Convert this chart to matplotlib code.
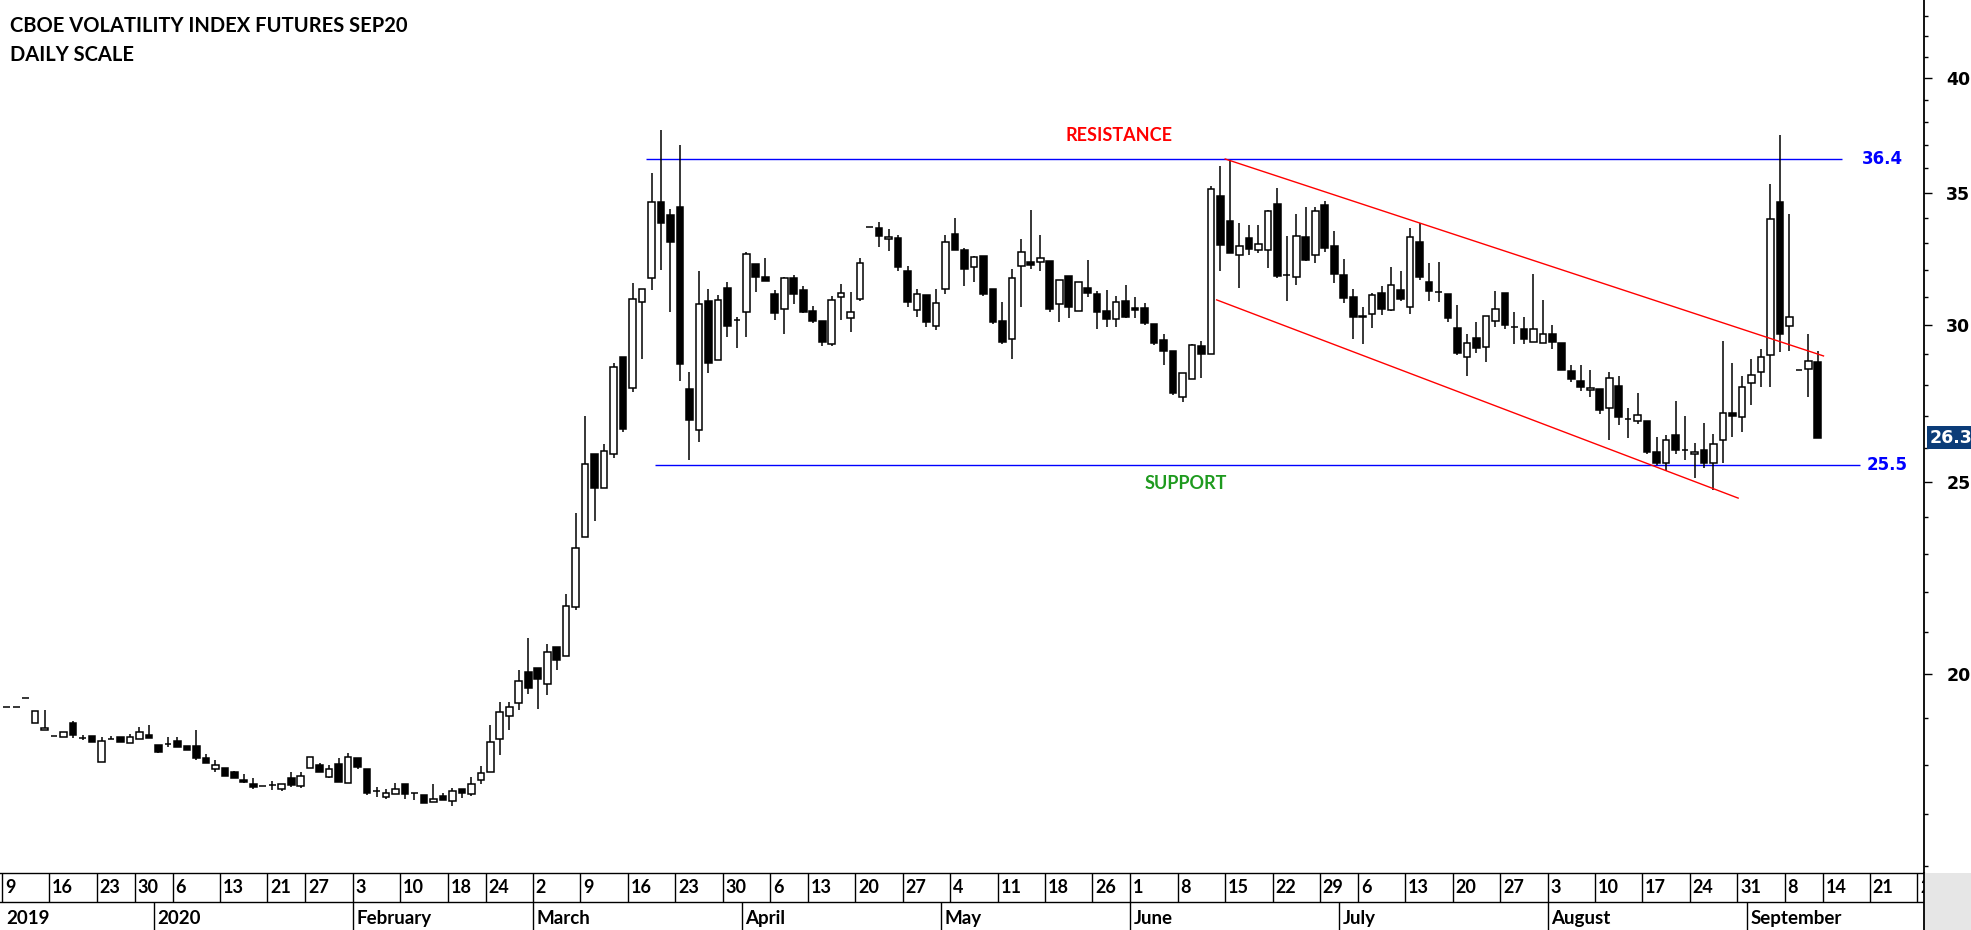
import numpy as np
import pandas as pd
import matplotlib
matplotlib.use("Agg")
import matplotlib.pyplot as plt
from matplotlib.patches import Rectangle
from matplotlib.ticker import FixedLocator, FixedFormatter, NullFormatter
from matplotlib.transforms import blended_transform_factory

W, H = 1971, 930

# daily OHLC, 9 Dec 2019 .. 11 Sep 2020 (trading days)
opens = [
    19.25, 19.25, 19.44, 18.89, 18.74, 18.62, 18.58, 18.89, 18.56, 18.60,
    18.05, 18.54, 18.59, 18.45, 18.55, 18.64, 18.41, 18.44, 18.51, 18.40,
    18.39, 18.13, 17.92, 17.93, 17.84, 17.69, 17.59, 17.56, 17.58, 17.49,
    17.73, 17.56, 17.93, 17.99, 17.75, 18.01, 17.62, 18.13, 17.90, 17.46,
    17.34, 17.39, 17.59, 17.42, 17.37, 17.24, 17.35, 17.25, 17.49, 17.39,
    17.69, 17.84, 18.55, 19.05, 19.33, 20.04, 20.13, 19.78, 20.65, 20.43,
    21.62, 23.45, 25.84, 24.82, 25.82, 28.91, 27.88, 30.83, 31.69, 34.64,
    34.10, 34.43, 27.85, 26.56, 30.86, 28.81, 31.32, 30.19, 30.45, 32.20,
    31.75, 31.12, 30.56, 31.70, 31.25, 30.49, 30.16, 29.37, 31.02, 30.25,
    30.92, 33.65, 33.60, 33.16, 33.20, 31.94, 30.55, 31.08, 29.96, 31.28,
    33.36, 32.74, 32.12, 32.51, 31.28, 30.14, 29.51, 32.13, 32.28, 32.28,
    32.32, 30.74, 31.76, 30.49, 31.32, 31.10, 30.49, 30.21, 30.85, 30.61,
    30.60, 30.05, 29.48, 29.11, 27.59, 28.20, 29.28, 29.03, 34.85, 33.86,
    32.57, 33.20, 32.74, 32.74, 34.55, 31.79, 31.73, 33.23, 32.54, 34.49,
    32.89, 31.79, 30.99, 30.32, 30.38, 31.14, 30.53, 31.26, 30.63, 33.04,
    31.54, 31.19, 31.10, 29.89, 28.93, 29.55, 29.24, 30.14, 31.14, 29.95,
    29.86, 29.43, 29.40, 29.69, 29.38, 28.44, 28.11, 27.82, 27.86, 27.24,
    27.96, 26.91, 26.84, 26.85, 25.88, 25.57, 26.41, 25.96, 25.82, 25.94,
    25.55, 26.25, 27.08, 26.96, 28.04, 28.43, 28.97, 34.62, 29.98, 28.47,
    28.52, 28.76,
]
highs = [
    19.25, 19.25, 19.44, 19.16, 19.18, 18.62, 18.69, 18.94, 18.63, 18.60,
    18.59, 18.61, 18.59, 18.65, 18.80, 18.84, 18.41, 18.59, 18.59, 18.40,
    18.74, 18.22, 18.10, 17.93, 17.87, 17.81, 17.73, 17.56, 17.66, 17.60,
    17.84, 17.84, 18.17, 18.03, 17.99, 18.13, 18.24, 18.13, 17.90, 17.54,
    17.50, 17.62, 17.59, 17.42, 17.37, 17.59, 17.42, 17.51, 17.49, 17.75,
    17.98, 18.84, 19.36, 19.36, 20.09, 20.85, 20.13, 20.70, 20.65, 21.94,
    24.11, 26.99, 25.84, 26.14, 28.70, 28.91, 31.52, 31.28, 35.80, 37.63,
    34.34, 36.98, 28.40, 31.94, 31.28, 31.09, 31.55, 30.28, 32.68, 32.20,
    32.43, 31.25, 31.74, 31.80, 31.42, 30.67, 30.16, 31.04, 31.46, 31.17,
    32.43, 33.65, 33.82, 33.54, 33.32, 32.13, 31.28, 31.08, 31.28, 33.32,
    33.99, 32.81, 32.51, 32.51, 31.28, 30.81, 32.02, 33.15, 34.30, 33.32,
    32.32, 31.61, 31.76, 31.54, 32.37, 31.22, 31.26, 31.04, 31.44, 31.00,
    30.78, 30.05, 29.71, 29.11, 28.37, 29.36, 29.46, 35.28, 36.09, 36.35,
    33.78, 33.70, 33.70, 34.30, 35.20, 33.28, 34.15, 34.43, 34.43, 34.66,
    33.48, 32.42, 31.29, 30.65, 31.15, 31.41, 32.10, 31.97, 33.58, 33.79,
    32.24, 32.28, 31.10, 30.73, 29.70, 30.11, 30.31, 31.22, 31.14, 30.45,
    30.28, 31.85, 30.90, 30.02, 29.38, 28.64, 28.64, 28.47, 27.86, 28.40,
    28.29, 27.24, 27.74, 26.85, 26.34, 26.41, 27.47, 26.99, 26.16, 26.77,
    26.43, 29.46, 28.70, 28.27, 28.86, 29.19, 35.34, 37.45, 34.15, 28.47,
    29.71, 29.13,
]
lows = [
    19.25, 19.25, 19.44, 18.89, 18.74, 18.62, 18.58, 18.56, 18.52, 18.49,
    18.05, 18.54, 18.48, 18.45, 18.55, 18.56, 18.24, 18.37, 18.37, 18.32,
    18.10, 18.04, 17.84, 17.76, 17.73, 17.62, 17.50, 17.56, 17.48, 17.45,
    17.53, 17.51, 17.93, 17.85, 17.72, 17.64, 17.62, 17.90, 17.37, 17.34,
    17.29, 17.39, 17.29, 17.28, 17.21, 17.24, 17.28, 17.16, 17.31, 17.36,
    17.60, 17.84, 18.20, 18.74, 19.19, 19.54, 19.21, 19.53, 20.10, 20.43,
    21.54, 23.45, 23.90, 24.82, 25.70, 26.49, 27.76, 28.85, 31.25, 32.01,
    30.47, 28.13, 25.66, 26.18, 28.39, 28.81, 29.58, 29.23, 29.61, 31.20,
    31.57, 30.18, 29.71, 30.76, 30.42, 30.08, 29.27, 29.27, 30.18, 29.77,
    30.87, 33.65, 32.85, 32.71, 31.96, 30.64, 30.29, 29.95, 29.84, 31.12,
    32.74, 31.42, 31.55, 31.03, 30.06, 29.34, 28.86, 30.66, 32.02, 31.97,
    30.45, 30.13, 30.27, 30.49, 31.01, 29.88, 29.95, 29.95, 30.27, 30.27,
    30.02, 29.33, 28.66, 27.68, 27.43, 28.20, 28.23, 29.03, 31.97, 32.64,
    31.34, 32.55, 32.64, 32.07, 31.71, 30.87, 31.44, 32.33, 32.26, 32.68,
    31.53, 30.80, 29.54, 29.37, 29.90, 30.37, 30.51, 30.86, 30.41, 31.64,
    30.86, 30.82, 30.10, 28.99, 28.29, 29.04, 28.76, 29.95, 29.88, 29.37,
    29.37, 29.43, 29.40, 29.17, 28.47, 28.07, 27.79, 27.61, 27.07, 26.27,
    26.73, 26.33, 26.74, 25.82, 25.50, 25.33, 25.82, 25.64, 25.13, 25.42,
    24.77, 25.57, 26.34, 26.49, 27.33, 27.91, 27.91, 29.10, 29.13, 28.47,
    27.61, 26.33,
]
closes = [
    19.25, 19.25, 19.44, 19.16, 18.79, 18.62, 18.69, 18.64, 18.56, 18.49,
    18.50, 18.54, 18.48, 18.59, 18.69, 18.56, 18.27, 18.44, 18.37, 18.32,
    18.15, 18.04, 17.99, 17.76, 17.73, 17.64, 17.53, 17.56, 17.58, 17.60,
    17.57, 17.77, 18.17, 17.85, 17.92, 17.64, 18.17, 17.95, 17.41, 17.46,
    17.41, 17.49, 17.39, 17.42, 17.21, 17.30, 17.28, 17.46, 17.42, 17.61,
    17.82, 18.49, 19.13, 19.25, 19.84, 19.67, 19.89, 20.52, 20.33, 21.65,
    23.15, 25.54, 24.84, 25.92, 28.58, 26.60, 30.92, 31.28, 34.64, 33.80,
    33.06, 28.67, 26.86, 30.74, 28.73, 30.88, 29.99, 30.19, 32.58, 31.74,
    31.57, 30.42, 31.70, 31.13, 30.45, 30.16, 29.43, 30.88, 31.16, 30.45,
    32.27, 33.65, 33.29, 33.24, 32.09, 30.83, 31.12, 30.12, 30.80, 33.07,
    32.74, 32.04, 32.47, 31.13, 30.13, 29.43, 31.69, 32.65, 32.19, 32.43,
    30.58, 31.61, 30.66, 31.54, 31.16, 30.48, 30.21, 30.81, 30.30, 30.55,
    30.09, 29.40, 29.13, 27.74, 28.37, 29.31, 29.00, 35.14, 32.95, 32.64,
    32.89, 32.78, 32.97, 34.25, 31.78, 31.79, 33.27, 32.38, 34.25, 32.84,
    31.86, 30.98, 30.30, 30.28, 31.06, 30.58, 31.44, 30.94, 33.26, 31.75,
    31.23, 31.19, 30.24, 29.04, 29.38, 29.21, 30.31, 30.56, 30.00, 29.95,
    29.53, 29.86, 29.69, 29.43, 28.49, 28.19, 27.93, 27.89, 27.20, 28.21,
    26.96, 26.91, 27.03, 25.90, 25.55, 26.27, 25.94, 25.96, 25.88, 25.55,
    26.12, 27.08, 27.01, 27.92, 28.30, 28.91, 33.93, 29.71, 30.28, 28.47,
    28.79, 26.33,
]

resistance = 36.4
support = 25.5
res_span = (67.4, 193.6)
sup_span = (68.4, 195.4)
# descending channel: (index, price) end points
chan_upper = ([128.5, 191.6], [36.4, 28.95])
chan_lower = ([127.6, 182.6], [30.9, 24.54])

holidays = ["2019-12-25", "2020-01-01", "2020-01-20", "2020-02-17",
            "2020-04-10", "2020-05-25", "2020-07-03", "2020-09-07"]
y_ticks = [20, 25, 30, 35, 40]

n = len(closes)
idx = np.arange(n)
o = np.array(opens); c = np.array(closes)
hi = np.array(highs); lo = np.array(lows)
up = c >= o

fig = plt.figure(figsize=(W / 100, H / 100), dpi=100)
axw = 1924 / W
axb = 57 / H
ax = fig.add_axes([0, axb, axw, 1 - axb])
xmin, xmax = -0.71, 202.2
ax.set_xlim(xmin, xmax)
ax.set_yscale("log")
ax.set_ylim(15.87, 43.79)

# candles
ax.vlines(idx, lo, hi, color="black", lw=1.1, zorder=2)
body_lo = np.minimum(o, c)
body_h = np.abs(c - o)
ax.bar(idx[up], body_h[up], bottom=body_lo[up], width=0.7,
       color="white", edgecolor="black", linewidth=1.1, zorder=3)
ax.bar(idx[~up], body_h[~up], bottom=body_lo[~up], width=0.7,
       color="black", edgecolor="black", linewidth=1.1, zorder=3)

# support / resistance
ax.hlines(resistance, *res_span, color="#0000ff", lw=1.0, zorder=1)
ax.hlines(support, *sup_span, color="#0000ff", lw=1.0, zorder=1)
ax.plot(*chan_upper, color="#ff0000", lw=1.0, zorder=4)
ax.plot(*chan_lower, color="#ff0000", lw=1.0, zorder=4)

ax.text(195.7, resistance, f"{resistance}", color="#0000ff", fontsize=12,
        fontweight="bold", ha="left", va="center", family="DejaVu Sans")
ax.text(196.1, support, f"{support}", color="#0000ff", fontsize=12,
        fontweight="bold", ha="left", va="center", family="DejaVu Sans")
ax.text(117.3, 37.4, "RESISTANCE", color="#ff0000", fontsize=13,
        fontweight="bold", ha="center", va="center", family="Lato")
ax.text(124.3, 24.95, "SUPPORT", color="#1e9a1e", fontsize=13,
        fontweight="bold", ha="center", va="center", family="Lato")

# axes styling
for s in ["top", "left"]:
    ax.spines[s].set_visible(False)
ax.spines["right"].set_linewidth(1.3)
ax.spines["bottom"].set_linewidth(1.0)
ax.set_xticks([])
ax.yaxis.tick_right()
ax.yaxis.set_major_locator(FixedLocator(y_ticks))
ax.yaxis.set_major_formatter(FixedFormatter([str(v) for v in y_ticks]))
ax.yaxis.set_minor_locator(FixedLocator(list(range(16, 44))))
ax.yaxis.set_minor_formatter(NullFormatter())
ax.tick_params(axis="y", which="major", direction="out", length=6, width=1,
               pad=10, labelsize=12.5)
ax.tick_params(axis="y", which="minor", direction="out", length=3, width=1)
for t in ax.get_yticklabels():
    t.set_fontweight("bold")

# last price box
trans = blended_transform_factory(ax.transAxes, ax.transData)
ax.text(1.003, c[-1], f"{c[-1]:.1f}", transform=trans, color="white",
        fontsize=12.5, fontweight="bold", ha="left", va="center",
        clip_on=False, zorder=6,
        bbox=dict(boxstyle="square,pad=0.15", fc="#0b3c78", ec="none"))

# title
fig.text(10 / W, 1 - 16 / H, "CBOE VOLATILITY INDEX FUTURES SEP20",
         fontsize=14.5, fontweight="bold", family="Lato", va="top")
fig.text(10 / W, 1 - 45 / H, "DAILY SCALE",
         fontsize=14.5, fontweight="bold", family="Lato", va="top")

# date axis from trading calendar
days = pd.bdate_range("2019-12-09", "2020-09-30")
days = days[~days.isin(pd.to_datetime(holidays))]
cal = pd.DataFrame({"d": days, "i": np.arange(len(days))})
iso = cal["d"].dt.isocalendar()
weeks = cal.groupby([iso["year"], iso["week"]]).first()
cal["m"] = cal["d"].dt.to_period("M")
months = cal.groupby("m").first()

axd = fig.add_axes([0, 0, axw, axb])
axd.set_xlim(xmin, xmax)
axd.set_ylim(0, 1)
axd.axis("off")
row = 0.49
axd.axhline(row, color="black", lw=1.0)
for _, r in weeks.iterrows():
    x = r["i"] - 0.5
    axd.vlines(x, row, 1, color="black", lw=1.0)
    axd.text(x + 0.3, 0.74, str(r["d"].day), fontsize=13, fontweight="bold",
             family="Lato", va="center", ha="left", clip_on=True)
for k, (_, r) in enumerate(months.iterrows()):
    x = r["i"] - 0.5
    d = r["d"]
    if d.month == 1:
        lab = str(d.year)
    elif k == 0:
        lab = str(d.year)
    else:
        lab = d.strftime("%B")
    if k > 0:
        axd.vlines(x, 0, row, color="black", lw=1.0)
    axd.text(x + 0.4, 0.2, lab, fontsize=13.5, fontweight="bold",
             family="Lato", va="center", ha="left", clip_on=True)

# grey corner under price axis
fig.patches.append(Rectangle((axw, 0), 1 - axw, axb, transform=fig.transFigure,
                             fc="#e6e6e6", ec="none", zorder=0))
fig.lines.append(plt.Line2D([axw, axw], [0, axb], transform=fig.transFigure,
                            color="black", lw=1.3))

fig.savefig("out.png", dpi=100, facecolor="white")
